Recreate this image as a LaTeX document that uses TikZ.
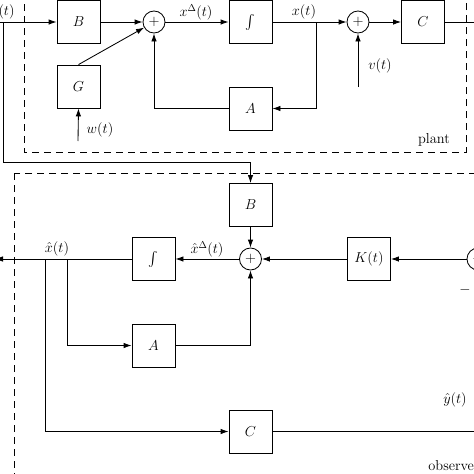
\documentclass[tikz,border=0pt]{standalone}
\usepackage{amsmath}
\usetikzlibrary{arrows.meta}
\begin{document}
\begin{tikzpicture}[x=1pt,y=-1pt,
  line width=0.85pt,
  every node/.style={font=\Large},
  blk/.style={draw,minimum width=43pt,minimum height=43pt,inner sep=0pt},
  sumnode/.style={draw,circle,minimum size=22pt,inner sep=0pt},
  lbl/.style={inner sep=0pt},
  arr/.style={-{Latex[length=8pt,width=5.5pt]}},
  frame/.style={dashed,dash pattern=on 7pt off 5pt}
]
\useasboundingbox (0,0) rectangle (474,474);
\clip (0,0) rectangle (474,474);
% plant
\node[blk] (B1) at (78.5,22) {$B$};
\node[sumnode] (S1) at (154,22) {$+$};
\node[blk] (I1) at (250.5,22) {$\int$};
\node[sumnode] (S2) at (358,22) {$+$};
\node[blk] (C1) at (423,22) {$C$};
\node[blk] (G) at (78.5,86.5) {$G$};
\node[blk] (A1) at (250.5,108.5) {$A$};
\coordinate (uin) at (-10,22);
\coordinate (tap) at (3,22);
\coordinate (br1) at (316,22);
\coordinate (vin) at (358,87);
\coordinate (win) at (78,141);
\coordinate (yout) at (490,22);
% observer
\node[blk] (B2) at (250.5,205) {$B$};
\node[sumnode] (S3) at (250.5,259) {$+$};
\node[blk] (K) at (369,259) {$K(t)$};
\node[sumnode] (S4) at (478,259) {$+$};
\node[blk] (I2) at (153.5,259) {$\int$};
\node[blk] (A2) at (153.5,345.5) {$A$};
\node[blk] (C2) at (250.5,431.5) {$C$};
\coordinate (xout) at (-5,259);
\coordinate (br2) at (45,259);
\coordinate (br3) at (67,259);
\coordinate (yhout) at (490,431.5);
% frames
\draw[frame] (24,-20) rectangle (466,152);
\draw[frame] (14,173) rectangle (500,500);
% plant connectors
\draw[arr] (uin) -- (B1);
\draw[arr] (tap) -- (3,162) -| (B2.north);
\draw[arr] (B1) -- (S1);
\draw[arr] (S1) -- (I1);
\draw[arr] (I1) -- (S2);
\draw[arr] (S2) -- (C1);
\draw (C1) -- (yout);
\draw[arr] (br1) |- (A1.east);
\draw[arr] (A1.west) -| (S1.south);
\draw[arr] (G.north) -- (S1);
\draw[arr] (win) -- (G.south);
\draw[arr] (vin) -- (S2.south);
% observer connectors
\draw[arr] (S4) -- (K);
\draw[arr] (K) -- (S3);
\draw[arr] (B2) -- (S3);
\draw[arr] (S3) -- (I2);
\draw[arr] (I2.west) -- (xout);
\draw[arr] (br3) |- (A2.west);
\draw[arr] (A2.east) -| (S3.south);
\draw[arr] (br2) |- (C2.west);
\draw (C2.east) -- (yhout);
% labels
\node[lbl,anchor=east] (lu) at (15,12) {$u(t)$};
\node[lbl] (lxd) at (196,12) {$x^{\Delta}(t)$};
\node[lbl] (lx) at (304,12) {$x(t)$};
\node[lbl] (lv) at (380,66) {$v(t)$};
\node[lbl] (lw) at (100,130) {$w(t)$};
\node[lbl] (lp) at (434,140) {plant};
\node[lbl] (lxh) at (57,249) {$\hat{x}(t)$};
\node[lbl] (lxhd) at (207,249) {$\hat{x}^{\Delta}(t)$};
\node[lbl] (lyh) at (455,400) {$\hat{y}(t)$};
\node[lbl,anchor=west] (lo) at (428,466) {observer};
\node[lbl] (lm) at (465,290) {$-$};
\end{tikzpicture}
\end{document}
